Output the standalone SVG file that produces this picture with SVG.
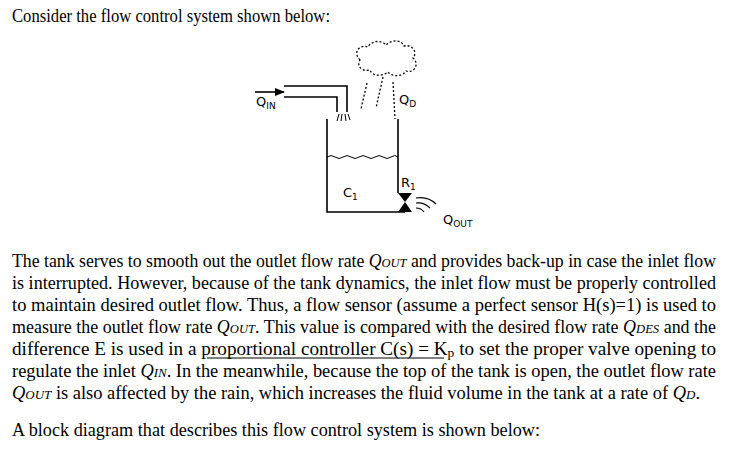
<svg xmlns="http://www.w3.org/2000/svg" width="731" height="450" viewBox="0 0 731 450">
<style>
.t{font-family:"Liberation Serif",serif;font-size:18.5px;fill:#000}
.s{font-family:"DejaVu Sans",sans-serif;fill:#000}
.i{font-style:italic}
.sm{font-size:13px}
.ln{stroke:#000;stroke-width:1.6;fill:none}
.dt{stroke:#000;stroke-width:1.3;fill:none;stroke-dasharray:2 2}
</style>
<defs><marker id="ar" markerWidth="10" markerHeight="8" refX="9" refY="4" orient="auto" markerUnits="userSpaceOnUse"><path d="M0,0 L10,4 L0,8 z" fill="#000"/></marker></defs>
<rect width="731" height="450" fill="#fff"/>
<text class="t" x="12" y="22" textLength="318" lengthAdjust="spacingAndGlyphs">Consider the flow control system shown below:</text>
<g id="cloud"><path class="dt" d="M360,60 C352,52 360,44 368,47 C372,40 382,40 386,45 C392,39 402,40 404,46 C412,44 418,52 413,58 C420,64 414,74 406,71 C402,77 392,77 388,72 C382,77 372,76 370,70 C362,72 356,66 360,60 Z"/>
<path class="dt" d="M367,83 L361,109 M383,77 L376,108 M393,82 L395,119"/></g>
<g id="pipe"><path class="ln" d="M284,86 H347 V112 M284,97 H337 V112"/>
<path stroke="#000" stroke-width="1" d="M339,114 L337,121 M342,114 L341,121 M345,114 L346,121 M348,114 L350,120"/></g>
<g id="tank"><path class="ln" d="M327,119 V212 H405 M398,119 V193"/>
<path stroke="#000" stroke-width="1" fill="none" d="M327,157 q4,-3 8,0 t8,0 t8,0 t8,0 t8,0 t8,0 t8,0 t8,0 t7,0"/>
<path d="M398,193 H412 L405,202 Z M405,202 L398,212 H412 Z" fill="#000"/>
<path stroke="#000" stroke-width="1.2" fill="none" d="M416,198 q12,-2 20,6 M416,203 q8,-1 14,5 M416,208 q5,0 8,4"/></g>
<g id="labels">
<text class="s" x="256" y="106" font-size="13">Q<tspan font-size="9" dy="3">IN</tspan></text>
<text class="s" x="399" y="104" font-size="13">Q<tspan font-size="9" dy="3">D</tspan></text>
<text class="s" x="401" y="187" font-size="13">R<tspan font-size="9" dy="3">1</tspan></text>
<text class="s" x="343" y="197" font-size="13">C<tspan font-size="9" dy="3">1</tspan></text>
<text class="s" x="443" y="224" font-size="13">Q<tspan font-size="9" dy="3">OUT</tspan></text>
</g>
<g id="connectors"><line class="ln" x1="255" y1="92" x2="284" y2="92" stroke-width="1.4" marker-end="url(#ar)"/></g>
<g id="para">
<text class="t" x="12" y="267" textLength="704" lengthAdjust="spacingAndGlyphs">The tank serves to smooth out the outlet flow rate <tspan class="i">Q<tspan class="sm">OUT</tspan></tspan> and provides back-up in case the inlet flow</text>
<text class="t" x="12" y="289" textLength="704" lengthAdjust="spacingAndGlyphs">is interrupted. However, because of the tank dynamics, the inlet flow must be properly controlled</text>
<text class="t" x="12" y="311" textLength="704" lengthAdjust="spacingAndGlyphs">to maintain desired outlet flow. Thus, a flow sensor (assume a perfect sensor H(s)=1) is used to</text>
<text class="t" x="12" y="333" textLength="704" lengthAdjust="spacingAndGlyphs">measure the outlet flow rate <tspan class="i">Q<tspan class="sm">OUT</tspan></tspan>. This value is compared with the desired flow rate <tspan class="i">Q<tspan class="sm">DES</tspan></tspan> and the</text>
<text class="t" x="12" y="355" textLength="704" lengthAdjust="spacingAndGlyphs">difference E is used in a proportional controller C(s) = K<tspan class="sm" dy="2">p</tspan><tspan dy="-2"> to set the proper valve opening to</tspan></text>
<line x1="207" y1="358" x2="444" y2="358" stroke="#000" stroke-width="1"/>
<text class="t" x="12" y="377" textLength="704" lengthAdjust="spacingAndGlyphs">regulate the inlet <tspan class="i">Q<tspan class="sm">IN</tspan></tspan>. In the meanwhile, because the top of the tank is open, the outlet flow rate</text>
<text class="t" x="12" y="399" textLength="688" lengthAdjust="spacingAndGlyphs"><tspan class="i">Q<tspan class="sm">OUT</tspan></tspan> is also affected by the rain, which increases the fluid volume in the tank at a rate of <tspan class="i">Q<tspan class="sm">D</tspan></tspan>.</text>
<text class="t" x="12" y="436" textLength="528" lengthAdjust="spacingAndGlyphs">A block diagram that describes this flow control system is shown below:</text>
</g>
</svg>
